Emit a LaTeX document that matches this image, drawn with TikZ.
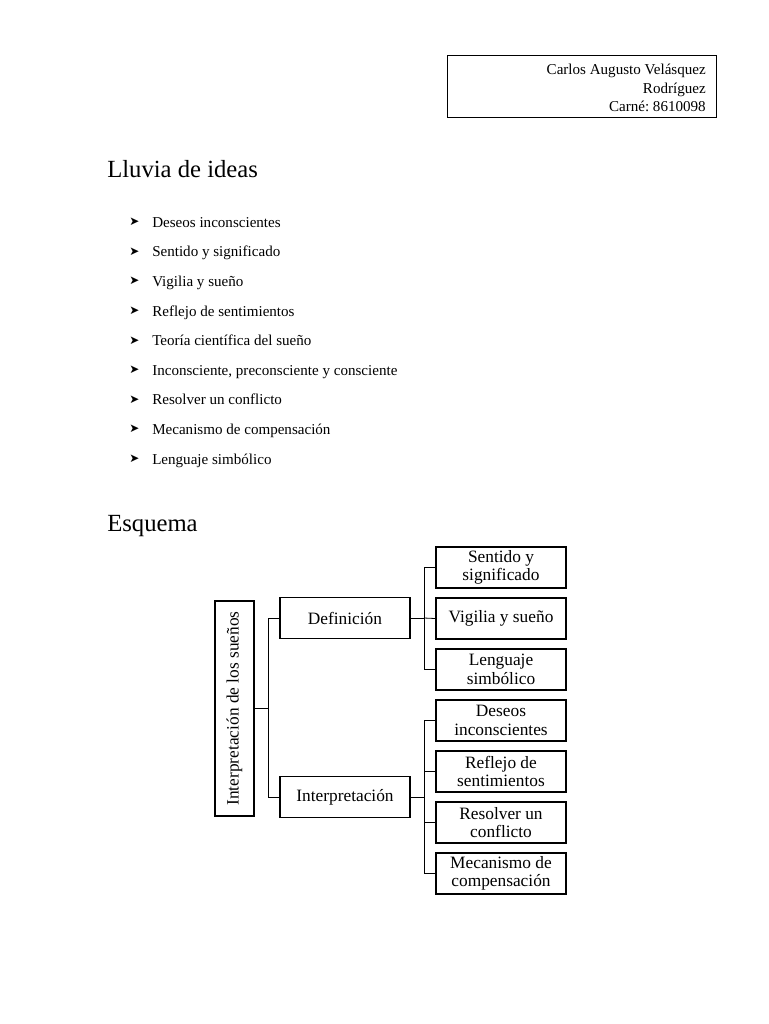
\documentclass[tikz,border=0pt]{standalone}
\usepackage{fontspec}
\setmainfont{Liberation Serif}
\newfontfamily\symfont{DejaVu Sans}
\usepackage{tikz}
\frenchspacing

\tikzset{
  titulo/.style={anchor=base west, inner sep=0pt, font=\fontsize{18.5}{22}\selectfont},
  idea/.style={anchor=base west, inner sep=0pt, font=\fontsize{11.3}{13.6}\selectfont},
  bala/.style={inner sep=0pt, font=\symfont\fontsize{9}{11}\selectfont},
  caja/.style={draw, line width=1.4pt, align=center, inner sep=1pt,
    minimum width=97.5pt, minimum height=30.75pt, font=\fontsize{13}{13.8}\selectfont},
  rama/.style={line width=0.6pt}
}

\begin{document}
\begin{tikzpicture}[x=0.75pt, y=-0.75pt]
  \useasboundingbox (0,0) rectangle (768,1024);
  % datos del autor
  \draw[line width=0.7pt] (447,55) rectangle (716,117);
  \node[anchor=north east, align=right, inner sep=0pt, font=\fontsize{11.3}{13.9}\selectfont]
        (autor) at (706,64) {Carlos Augusto Velásquez\\Rodríguez\\Carné: 8610098};

  \node[titulo] (lluvia) at (107,177) {Lluvia de ideas};
  \foreach \txt [count=\i from 0] in {Deseos inconscientes, Sentido y significado,
      Vigilia y sueño, Reflejo de sentimientos, Teoría científica del sueño,
      {Inconsciente, preconsciente y consciente}, Resolver un conflicto,
      Mecanismo de compensación, Lenguaje simbólico}
  {
    \node[bala] (bala\i) at (134.5,222+29.6*\i) {➤};
    \node[idea] (idea\i) at (152,227.3+29.6*\i) {\txt};
  }

  \node[titulo] (esquema) at (107,531) {Esquema};

  % esquema
  \node[caja, rotate=90, minimum width=161.25pt, minimum height=29.25pt] (raiz) at (234.5,708.5)
        {Interpretación de los sueños};
  \node[caja] (def) at (345,618) {Definición};
  \node[caja] (inter) at (345,797) {Interpretación};
  \node[caja] (sen) at (501,567.5) {Sentido y\\significado};
  \node[caja] (vig) at (501,618.5) {Vigilia y sueño};
  \node[caja] (len) at (501,669.5) {Lenguaje\\simbólico};
  \node[caja] (des) at (501,720.5) {Deseos\\inconscientes};
  \node[caja] (ref) at (501,771.5) {Reflejo de\\sentimientos};
  \node[caja] (res) at (501,822.5) {Resolver un\\conflicto};
  \node[caja] (mec) at (501,873.5) {Mecanismo de\\compensación};

  \draw[rama] (raiz.south) -- ++(13,0) coordinate (rj);
  \draw[rama] (def.west) -| (rj) |- (inter.west);
  \draw[rama] (def.east) -- ++(13,0) coordinate (dj);
  \draw[rama] (sen.west) -| (dj) |- (len.west);
  \draw[rama] (dj) -- (vig.west);
  \draw[rama] (inter.east) -- ++(13,0) coordinate (ij);
  \draw[rama] (des.west) -| (ij) |- (mec.west);
  \draw[rama] (ref.west) -| (ij);
  \draw[rama] (res.west) -| (ij);
\end{tikzpicture}
\end{document}
